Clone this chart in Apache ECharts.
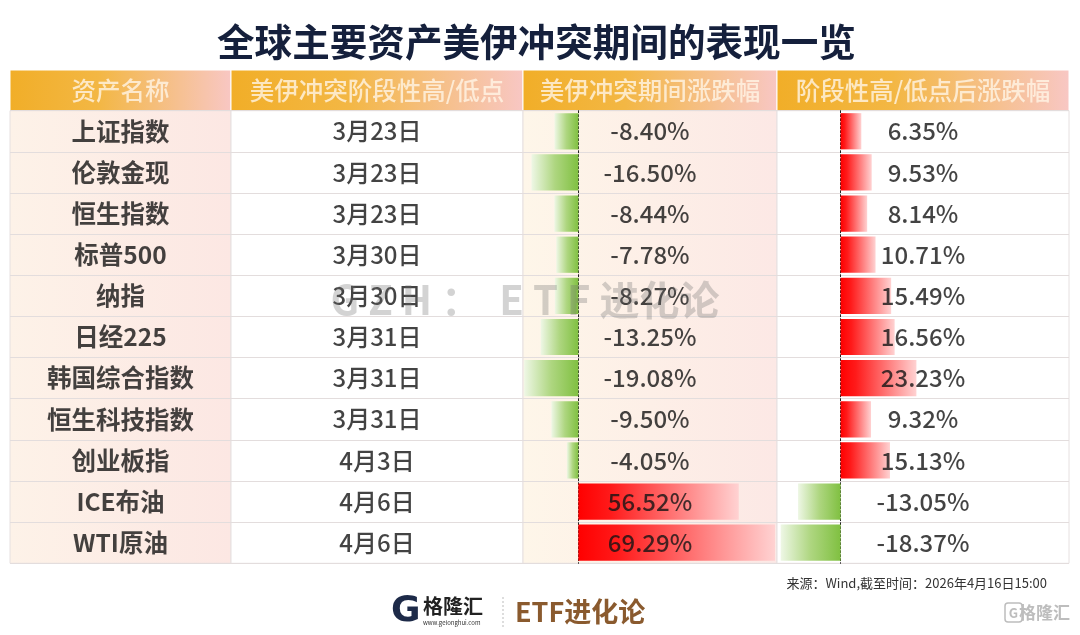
<!DOCTYPE html>
<html>
<head>
<meta charset="utf-8">
<script src="https://cdn.jsdelivr.net/npm/echarts@6/dist/echarts.min.js"></script>
<style>
html,body{margin:0;padding:0;background:#fff;}
#chart{width:1080px;height:635px;}
</style>
</head>
<body>
<div id="chart"></div>
<script>
// ---- data ----
const headers = ['资产名称', '美伊冲突阶段性高/低点', '美伊冲突期间涨跌幅', '阶段性高/低点后涨跌幅'];
const assets = ['上证指数', '伦敦金现', '恒生指数', '标普500', '纳指', '日经225', '韩国综合指数', '恒生科技指数', '创业板指', 'ICE布油', 'WTI原油'];
const turnDates = ['3月23日', '3月23日', '3月23日', '3月30日', '3月30日', '3月31日', '3月31日', '3月31日', '4月3日', '4月6日', '4月6日'];
const conflictChange = [-8.40, -16.50, -8.44, -7.78, -8.27, -13.25, -19.08, -9.50, -4.05, 56.52, 69.29];
const afterChange = [6.35, 9.53, 8.14, 10.71, 15.49, 16.56, 23.23, 9.32, 15.13, -13.05, -18.37];

// ---- layout ----
const colLeft = [10, 231, 523, 777];
const colWidth = [221, 292, 254, 292];
const HEAD_TOP = 70, HEAD_H = 40.7, BODY_TOP = 110.7, BODY_H = 452.6;
const BAR_MIN = -19.5, BAR_MAX = 70;
const FONT = '"Noto Sans CJK SC", "Noto Sans", sans-serif';

const G = echarts.graphic;
const headGrad = new G.LinearGradient(0, 0, 1, 0, [
  {offset: 0, color: '#F1AE28'}, {offset: 0.4, color: '#F3B744'}, {offset: 1, color: '#F8C7C4'}
]);
const bodyBg = [
  new G.LinearGradient(0, 0, 1, 0, [{offset: 0, color: '#FDF2E8'}, {offset: 1, color: '#FCE7E3'}]),
  '#FFFFFF',
  new G.LinearGradient(0, 0, 1, 0, [{offset: 0, color: '#FEF6E9'}, {offset: 1, color: '#FCE8E5'}]),
  '#FFFFFF'
];
const posGrad = new G.LinearGradient(0, 0, 1, 0, [
  {offset: 0, color: '#FF0000'}, {offset: 0.2, color: '#FF1A1A'}, {offset: 1, color: '#FFD2D2'}
]);
const negGrad = new G.LinearGradient(0, 0, 1, 0, [
  {offset: 0, color: '#EEF7E5'}, {offset: 0.5, color: '#AED680'}, {offset: 1, color: '#80C041'}
]);

const grids = [], xAxes = [], yAxes = [], series = [];
for (let c = 0; c < 4; c++) {
  grids.push({left: colLeft[c], width: colWidth[c], top: HEAD_TOP, height: HEAD_H,
    show: true, backgroundColor: headGrad, borderColor: '#FFFFFF', borderWidth: 1});
  grids.push({left: colLeft[c], width: colWidth[c], top: BODY_TOP, height: BODY_H,
    show: true, backgroundColor: bodyBg[c], borderColor: '#E6E0E0', borderWidth: 1});
  const isBar = c >= 2;
  xAxes.push({gridIndex: c * 2, type: 'value', min: 0, max: 1, show: false});
  xAxes.push({gridIndex: c * 2 + 1, type: 'value', min: isBar ? BAR_MIN : 0, max: isBar ? BAR_MAX : 1, show: false});
  yAxes.push({gridIndex: c * 2, type: 'category', data: [headers[c]], show: false});
  yAxes.push({gridIndex: c * 2 + 1, type: 'category', data: assets, inverse: true,
    axisLabel: {show: false}, axisTick: {show: false},
    axisLine: isBar ? {show: true, onZero: true, lineStyle: {color: '#222', width: 1, type: [2, 2]}} : {show: false},
    splitLine: {show: true, lineStyle: {color: '#E3DDDD', width: 1}}});

  series.push({type: 'scatter', xAxisIndex: c * 2, yAxisIndex: c * 2, symbolSize: 0.1,
    itemStyle: {color: 'transparent'}, silent: true, z: 5,
    data: [{value: [0.5, 0], name: headers[c]}],
    label: {show: true, position: 'inside', formatter: '{b}', color: '#FFF5E6',
      fontSize: 24.5, fontWeight: 500, fontFamily: FONT}});

  if (isBar) {
    const vals = c === 2 ? conflictChange : afterChange;
    series.push({type: 'bar', xAxisIndex: c * 2 + 1, yAxisIndex: c * 2 + 1, barWidth: '88%', z: 3,
      data: vals.map(v => ({value: v, itemStyle: {color: v >= 0 ? posGrad : negGrad}}))});
    const mid = (BAR_MIN + BAR_MAX) / 2;
    series.push({type: 'scatter', xAxisIndex: c * 2 + 1, yAxisIndex: c * 2 + 1, symbolSize: 0.1,
      itemStyle: {color: 'transparent'}, silent: true, z: 6,
      data: vals.map((v, i) => ({value: [mid, i], name: v.toFixed(2) + '%'})),
      label: {show: true, position: 'inside', formatter: '{b}', color: '#141414',
        fontSize: 24, fontWeight: 500, fontFamily: FONT}});
  } else {
    const texts = c === 0 ? assets : turnDates;
    series.push({type: 'scatter', xAxisIndex: c * 2 + 1, yAxisIndex: c * 2 + 1, symbolSize: 0.1,
      itemStyle: {color: 'transparent'}, silent: true, z: 6,
      data: texts.map((t, i) => ({value: [0.5, i], name: t})),
      label: {show: true, position: 'inside', formatter: '{b}', color: '#141414',
        fontSize: c === 0 ? 24.5 : 24, fontWeight: c === 0 ? 'bold' : 500, fontFamily: FONT}});
  }
}

const chart = echarts.init(document.getElementById('chart'), null, {renderer: 'canvas'});
chart.setOption({
  animation: false,
  backgroundColor: '#FFFFFF',
  title: {text: '全球主要资产美伊冲突期间的表现一览', left: 212, top: 18,
    textStyle: {fontSize: 37.6, fontWeight: 'bold', color: '#15203C', fontFamily: FONT}},
  grid: grids, xAxis: xAxes, yAxis: yAxes, series: series,
  graphic: [
    {type: 'text', x: 525, y: 300, z: 100, silent: true,
      style: {text: 'G Z H ：  E T F 进化论', fill: 'rgba(110,110,110,0.30)', font: 'bold 40px ' + FONT,
        textAlign: 'center', textVerticalAlign: 'middle'}},
    {type: 'text', x: 1047, y: 583, style: {text: '来源：Wind,截至时间：2026年4月16日15:00', fill: '#333',
      font: '13px ' + FONT, textAlign: 'right', textVerticalAlign: 'middle'}},
    {type: 'text', x: 391, y: 612, style: {text: 'G', fill: '#1D2A48', font: 'bold 36px "DejaVu Sans"',
      textAlign: 'left', textVerticalAlign: 'middle'}},
    {type: 'text', x: 423, y: 606, style: {text: '格隆汇', fill: '#222', font: 'bold 20px ' + FONT,
      textAlign: 'left', textVerticalAlign: 'middle'}},
    {type: 'text', x: 423, y: 623, style: {text: 'www.gelonghui.com', fill: '#333', font: '6px ' + FONT,
      textAlign: 'left', textVerticalAlign: 'middle'}},
    {type: 'line', shape: {x1: 503, y1: 597, x2: 503, y2: 628}, style: {stroke: '#BBB', lineWidth: 1, lineDash: [2, 2]}},
    {type: 'text', x: 515, y: 612, style: {text: 'ETF进化论', fill: '#8A5A2E', font: 'bold 27px ' + FONT,
      textAlign: 'left', textVerticalAlign: 'middle'}},
    {type: 'rect', shape: {x: 1005, y: 603, width: 17, height: 19, r: 3}, style: {fill: 'none', stroke: '#BDBDBD', lineWidth: 1.5}},
    {type: 'text', x: 1013.5, y: 613, style: {text: 'G', fill: '#BDBDBD', font: 'bold 13px ' + FONT,
      textAlign: 'center', textVerticalAlign: 'middle'}},
    {type: 'text', x: 1070, y: 613, style: {text: '格隆汇', fill: '#BDBDBD', font: 'bold 17px ' + FONT,
      textAlign: 'right', textVerticalAlign: 'middle'}}
  ]
});
</script>
</body>
</html>
